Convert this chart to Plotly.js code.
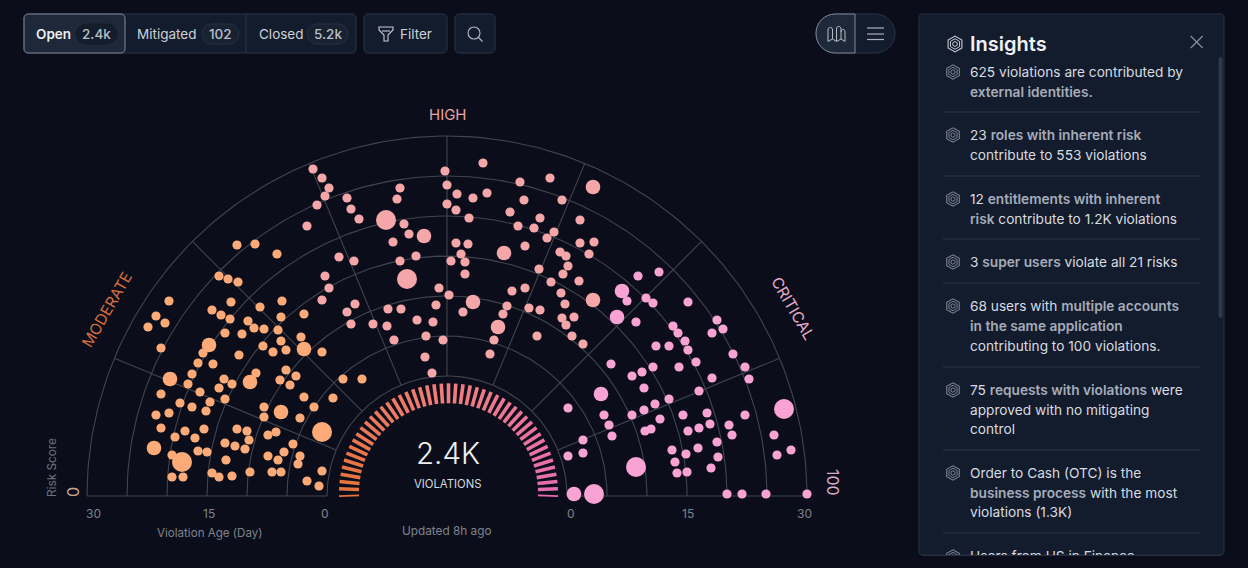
<!DOCTYPE html>
<html><head><meta charset="utf-8">
<script src="https://cdn.plot.ly/plotly-3.0.1.min.js"></script>
<style>html,body{margin:0;padding:0;background:#0b0e1a;overflow:hidden}#c{width:1248px;height:568px}</style>
</head><body><div id="c"></div>
<script>
// Points on the radial map: [horizontal position, vertical position, relative violation weight (default 1)]
const moderatePoints = [[219,276],[228,279],[238,282],[169,301],[231,302],[282,301],[212,310],[221,315],[230,319],[260,307],[304,314],[281,317],[156,316],[165,323],[148,327],[248,321],[254,328],[264,329],[278,330],[225,333],[242,334],[301,337],[281,341],[209,345,2],[161,348],[263,346],[273,352],[286,350],[304,349,2],[322,352],[203,353],[239,355],[198,363],[213,364],[286,370],[296,376],[192,374],[256,373],[170,379,2],[250,382,2],[224,379],[232,384],[188,384],[280,380],[290,385],[219,388],[200,392],[161,394],[304,397],[225,399],[210,402],[180,403],[333,398],[192,407],[264,407],[314,407],[206,411],[281,412,2],[169,413],[156,415],[264,417],[300,418],[161,428],[204,429],[237,429],[247,431],[185,431],[322,432,3],[276,432],[268,435],[175,437],[195,438],[249,440],[225,443],[293,444],[235,446],[245,449],[154,448,2],[198,451],[207,452],[284,452],[172,455],[268,456],[300,456],[278,460],[182,462,3],[226,460],[298,464],[322,471],[212,473],[250,472],[272,472],[281,472],[232,476],[219,477],[172,477],[183,477],[307,481],[319,486],[237,245],[255,244],[277,254],[343,379],[362,379]];
const highPoints = [[313,169],[322,178],[329,188],[325,196],[317,205],[307,226],[347,198],[351,209],[359,219],[400,188],[397,199],[386,220,3],[404,224],[409,234],[424,236,2],[393,242],[416,256],[400,261],[339,257],[354,261],[407,279,3],[325,276],[329,288],[322,300],[355,304],[347,312],[351,324],[373,324],[388,309],[401,309],[387,326],[394,340],[417,320],[433,322],[426,336],[443,340],[425,357],[432,373],[439,288],[436,305],[449,295],[445,171],[447,185],[447,204],[483,163],[457,194],[473,198],[487,193],[456,210],[469,218],[520,182],[550,178],[593,187,2],[524,200],[562,200],[510,212],[540,218],[518,226],[534,228],[554,232],[547,238],[580,220],[580,243],[594,242],[589,254],[456,243],[468,244],[461,254],[451,261],[465,262],[465,274],[504,253,2],[525,246],[560,252],[566,256],[568,266],[563,274],[539,269],[579,281],[551,282],[525,288],[512,291],[561,293],[593,300,2],[565,304],[473,302,2],[463,312],[507,306],[503,314],[529,308],[540,310],[498,327,2],[562,318],[574,317],[566,325],[537,336],[572,336],[583,344],[494,340],[490,354]];
const criticalPoints = [[638,276],[659,272],[622,291,2],[627,301],[646,298],[653,303],[688,302],[617,317,2],[636,322],[673,326],[678,333],[685,341],[669,346],[656,346],[688,350],[696,362],[717,320],[723,329],[712,333],[733,354],[745,367],[749,379],[611,364],[653,367],[679,367],[642,372],[632,376],[712,378],[644,388],[699,391],[601,394,2],[669,399],[655,404],[644,410],[632,415],[604,415],[568,408],[683,415],[707,413],[745,415],[784,409,3],[660,419],[609,425],[710,424],[729,425],[699,428],[651,429],[645,431],[688,431],[612,436],[732,435],[774,435],[583,440],[717,442],[698,448],[672,450],[791,450],[583,453],[568,456],[686,454],[777,455],[718,457],[675,462],[636,467,3],[711,468],[677,473],[687,472],[574,494,2],[594,494,3],[727,494],[742,494],[766,494],[807,494]];
const ageTicks = ["30","15","0","0","15","30"];
const severityLabels = ["MODERATE","HIGH","CRITICAL"];
const statusTabs = [["Open","2.4k"],["Mitigated","102"],["Closed","5.2k"]];
const totalViolations = "2.4K";
const insights = [
 ['625 violations are contributed by','<H>external identities.</H>'],
 ['23 <H>roles with inherent risk</H>','contribute to 553 violations'],
 ['12 <H>entitlements with inherent</H>','<H>risk</H> contribute to 1.2K violations'],
 ['3 <H>super users</H> violate all 21 risks'],
 ['68 users with <H>multiple accounts</H>','<H>in the same application</H>','contributing to 100 violations.'],
 ['75 <H>requests with violations</H> were','approved with no mitigating','control'],
 ['Order to Cash (OTC) is the','<H>business process</H> with the most','violations (1.3K)']
];
const clippedInsight = 'Users from US in Finance';

const FONT='Inter, "Noto Sans", sans-serif';
const BG='#0b0e1a', PANEL='#131c2c', LINE='#2a3444';
const CX=447, CY=496, GRID='#41454f';
const shapes=[], annotations=[], traces=[];

function txt(x,y,text,o={}){annotations.push({x,y,xref:'x',yref:'y',text,showarrow:false,
  xanchor:o.a||'center',yanchor:'middle',textangle:o.rot||0,borderpad:0,borderwidth:0,
  font:{family:FONT,size:o.size||12,color:o.color||'#8b8f99',weight:o.weight||400}});}
function rr(x0,y0,x1,y1,r,fill,line,w,layer){
  const k=r*0.45;
  const p=`M${x0+r},${y0} L${x1-r},${y0} C${x1-k},${y0} ${x1},${y0+k} ${x1},${y0+r} L${x1},${y1-r} C${x1},${y1-k} ${x1-k},${y1} ${x1-r},${y1} L${x0+r},${y1} C${x0+k},${y1} ${x0},${y1-k} ${x0},${y1-r} L${x0},${y0+r} C${x0},${y0+k} ${x0+k},${y0} ${x0+r},${y0} Z`;
  shapes.push({type:'path',path:p,xref:'x',yref:'y',fillcolor:fill,line:{color:line,width:w===undefined?1:w},layer:layer||'below'});
}
function path(p,color,w,fill,layer){shapes.push({type:'path',path:p,xref:'x',yref:'y',fillcolor:fill||'rgba(0,0,0,0)',line:{color,width:w||1},layer:layer||'below'});}
function seg(x0,y0,x1,y1,color,w,layer){shapes.push({type:'line',x0,y0,x1,y1,xref:'x',yref:'y',line:{color,width:w||1},layer:layer||'below'});}
function hex(cx,cy,r,color,w){let p='';for(let i=0;i<6;i++){const a=Math.PI/6+i*Math.PI/3;p+=(i?'L':'M')+(cx+r*Math.cos(a)).toFixed(2)+','+(cy+r*Math.sin(a)).toFixed(2)+' ';}path(p+'Z',color,w);}
function hexIcon(cx,cy,s,color){hex(cx,cy,7.6*s,color,1.1);hex(cx,cy,5*s,color,1);hex(cx,cy,2.4*s,color,1);}

// grid
function lineTrace(xs,ys){traces.push({type:'scatter',mode:'lines',x:xs,y:ys,line:{color:GRID,width:1.1},hoverinfo:'skip',showlegend:false});}
[120,160,200,240,280,320,360].forEach(r=>{const xs=[],ys=[];for(let d=0;d<=180;d+=1){const a=d*Math.PI/180;xs.push(CX-r*Math.cos(a));ys.push(CY-r*Math.sin(a));}lineTrace(xs,ys);});
[22.5,45,67.5,90,112.5,135,157.5].forEach(d=>{const a=d*Math.PI/180;lineTrace([CX-120*Math.cos(a),CX-360*Math.cos(a)],[CY-120*Math.sin(a),CY-360*Math.sin(a)]);});
lineTrace([CX-360,CX-120],[CY,CY]);lineTrace([CX+120,CX+360],[CY,CY]);

// points
function pts(list,color,name){traces.push({type:'scatter',mode:'markers',name,x:list.map(p=>p[0]),y:list.map(p=>p[1]),
  marker:{color,size:list.map(p=>3.8+5.4*(p[2]||1)),line:{width:0},opacity:1},hoverinfo:'skip',showlegend:false});}
pts(moderatePoints,'#fcab78',severityLabels[0]);
pts(highPoints,'#f4a6a9',severityLabels[1]);
pts(criticalPoints,'#f9a3d4',severityLabels[2]);

// gauge
const gCX=448.5,gCY=492.8,bars=49;
function mix(a,b,t){return a.map((v,i)=>Math.round(v+(b[i]-v)*t));}
for(let i=0;i<bars;i++){
  const t=i/(bars-1), d=-1.7+t*183.4, a=d*Math.PI/180;
  const c=t<0.5?mix([230,116,58],[240,125,125],t*2):mix([240,125,125],[230,108,180],(t-0.5)*2);
  seg(gCX-89.5*Math.cos(a),gCY-89.5*Math.sin(a),gCX-109.5*Math.cos(a),gCY-109.5*Math.sin(a),`rgb(${c})`,(i==0||i==bars-1)?1.8:3.6);
}
txt(448,453,totalViolations,{size:29.5,color:'#eff0f3',weight:300});
txt(447.5,484,'VIOLATIONS',{size:11.3,color:'#d6d8dd'});
txt(446.5,531,'Updated 8h ago',{size:11.8,color:'#7f838d'});

// axis text
[93,209,325,571,688,804].forEach((x,i)=>txt(x,513,ageTicks[i],{size:12,color:'#7f838d'}));
txt(209.5,533,'Violation Age (Day)',{size:11.6,color:'#7f838d'});
txt(52,468,'Risk Score',{size:11.8,color:'#6d717b',rot:-90});
txt(73,492,'0',{size:16,color:'#c9a492',rot:-90});
txt(833,482,'100',{size:16,color:'#d8abc9',rot:90});
txt(107,309.5,severityLabels[0],{size:15.3,color:'#d9703f',rot:-60});
txt(448,114.5,severityLabels[1],{size:15,color:'#e9a3a5'});
txt(793,308.5,severityLabels[2],{size:15.4,color:'#e6abcb',rot:60});

// top toolbar
rr(24,14,356,53,4,PANEL,LINE);
seg(246,14,246,53,LINE,1);
rr(24,14,125,53,4,'#1d2938','#7e8b9a',1);
const tabs=[[36,76,117],[137,202,239],[259,307,348]];
statusTabs.forEach((s,i)=>{
  const [tx,p0,p1]=tabs[i];
  rr(p0,24,p1,44,10,i==0?'#141d2c':'#182231',i==0?'#141d2c':'#263042',1);
  txt(tx,34,s[0],{a:'left',size:13.5,color:i==0?'#eceef1':'#cdd1d8',weight:i==0?600:400});
  txt((p0+p1)/2,34,s[1],{size:13.5,color:'#b9bfc9',weight:500});
});
rr(364,14,447,53,4,PANEL,LINE);
path('M379,27 L393,27 L393,30 L388,35 L388,41 L384,41 L384,35 L379,30 Z','#c9cdd4',1.1);
seg(382,31,390,31,'#c9cdd4',1.1);
txt(400,34,'Filter',{a:'left',size:13.5,color:'#cdd1d8'});
rr(455,14,495,53,4,PANEL,LINE);
shapes.push({type:'circle',x0:468,y0:27,x1:480,y1:39,xref:'x',yref:'y',line:{color:'#b4b9c2',width:1.1},layer:'below'});
seg(478.5,37.5,482.5,41.5,'#b4b9c2',1.1);

// view toggle
rr(816,14,895,53,19.5,PANEL,LINE);
path('M855,14 L835.5,14 C824,14 816,23 816,33.5 C816,44 824,53 835.5,53 L855,53 Z','#7e8b9a',1,'#1d2938');
path('M828,41.5 L828,30 C828,26.5 832.5,26.5 832.5,30 L832.5,39 L828,41.5 M832.5,39 L836.5,41.5 L836.5,29 C836.5,25.5 841,25.5 841,29 L841,39 L836.5,41.5 M841,39 L845,41.5 L845,32 C845,28.5 841,28.5 841,32','#b4bac5',1);
[28,34,39.5].forEach(y=>seg(867,y,884,y,'#aab1bd',1.2));

// insights panel
rr(919,14,1224,555,3,PANEL,'#263040');
rr(1218.5,57,1222.5,318,2,'#2e3947','#2e3947',0);
hexIcon(955,44,1.05,'#c8ccd3');
txt(970,44,'Insights',{a:'left',size:20,color:'#f0f1f4',weight:600});
seg(1190.7,36,1202.7,48,'#8a93a3',1.1);seg(1190.7,48,1202.7,36,'#8a93a3',1.1);
const lineY=[[72,91.5],[135,155],[199,219],[262],[306,326,346],[390,410,429],[473,493,512]];
const dividers=[112,176,239,283,367,450,533];
insights.forEach((lines,i)=>{
  hexIcon(953,lineY[i][0],0.95,'#7b8390');
  lines.forEach((l,j)=>{
    const t=l.replace(/<H>/g,'<span style="fill:#a6acbb;font-weight:600">').replace(/<\/H>/g,'</span>');
    txt(970,lineY[i][j],t,{a:'left',size:13.7,color:'#d8dbe0'});
  });
  seg(943,dividers[i],1200,dividers[i],'#2b3443',1);
});
hexIcon(953,557,0.95,'#7b8390');
traces.push({type:'scatter',mode:'text',x:[970],y:[558],text:[clippedInsight],textposition:'middle right',
  textfont:{family:FONT,size:13.7,color:'#d8dbe0'},hoverinfo:'skip',showlegend:false});
// page background hides the part of the last insight that scrolls below the panel
shapes.push({type:'rect',x0:910,x1:1240,y0:555.5,y1:568,xref:'x',yref:'y',fillcolor:BG,line:{width:0},layer:'above'});
seg(922,555.5,1221,555.5,'#263040',1,'above');

Plotly.newPlot('c',traces,{
  width:1248,height:568,margin:{l:0,r:0,t:0,b:0,pad:0},paper_bgcolor:BG,plot_bgcolor:BG,showlegend:false,
  xaxis:{range:[0,1248],visible:false,fixedrange:true},
  yaxis:{range:[568,0],visible:false,fixedrange:true},
  shapes,annotations,font:{family:FONT}
},{displayModeBar:false,staticPlot:true});
</script></body></html>
